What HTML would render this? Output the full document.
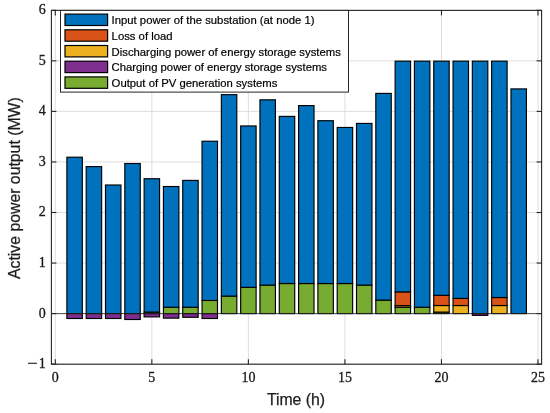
<!DOCTYPE html>
<html><head><meta charset="utf-8"><title>Active power output</title>
<style>
html,body{margin:0;padding:0;background:#fff;}
svg{display:block;}
.tick text{font-family:"Liberation Serif",serif;font-size:14px;fill:#1a1a1a;stroke:#1a1a1a;stroke-width:0.3px;}
.leg text{font-family:"Liberation Sans",sans-serif;font-size:11.3px;fill:#000;stroke:#000;stroke-width:0.2px;}
.ax{font-family:"Liberation Sans",sans-serif;font-size:15.8px;fill:#1c1c1c;stroke:#1c1c1c;stroke-width:0.25px;}
</style></head><body>
<svg width="550" height="413" viewBox="0 0 550 413">
<rect width="550" height="413" fill="#fff"/>
<g stroke="#dadada" stroke-width="0.9" fill="none">
<line x1="55.30" x2="55.30" y1="10.4" y2="364.2"/>
<line x1="151.84" x2="151.84" y1="10.4" y2="364.2"/>
<line x1="248.38" x2="248.38" y1="10.4" y2="364.2"/>
<line x1="344.92" x2="344.92" y1="10.4" y2="364.2"/>
<line x1="441.46" x2="441.46" y1="10.4" y2="364.2"/>
<line x1="538.00" x2="538.00" y1="10.4" y2="364.2"/>
<line x1="51.4" x2="541.6" y1="364.15" y2="364.15"/>
<line x1="51.4" x2="541.6" y1="313.60" y2="313.60"/>
<line x1="51.4" x2="541.6" y1="263.05" y2="263.05"/>
<line x1="51.4" x2="541.6" y1="212.50" y2="212.50"/>
<line x1="51.4" x2="541.6" y1="161.95" y2="161.95"/>
<line x1="51.4" x2="541.6" y1="111.40" y2="111.40"/>
<line x1="51.4" x2="541.6" y1="60.85" y2="60.85"/>
<line x1="51.4" x2="541.6" y1="10.30" y2="10.30"/>
</g>
<g stroke="#000" stroke-width="1.15">
<rect x="66.88" y="157.20" width="15.45" height="156.40" fill="#0072BD"/>
<rect x="66.88" y="313.60" width="15.45" height="4.90" fill="#7E2F8E"/>
<rect x="86.19" y="166.60" width="15.45" height="147.00" fill="#0072BD"/>
<rect x="86.19" y="313.60" width="15.45" height="4.90" fill="#7E2F8E"/>
<rect x="105.50" y="185.00" width="15.45" height="128.60" fill="#0072BD"/>
<rect x="105.50" y="313.60" width="15.45" height="4.90" fill="#7E2F8E"/>
<rect x="124.81" y="163.52" width="15.45" height="150.08" fill="#0072BD"/>
<rect x="124.81" y="313.60" width="15.45" height="5.91" fill="#7E2F8E"/>
<rect x="144.12" y="312.08" width="15.45" height="1.52" fill="#77AC30"/>
<rect x="144.12" y="178.73" width="15.45" height="133.35" fill="#0072BD"/>
<rect x="144.12" y="313.60" width="15.45" height="3.29" fill="#7E2F8E"/>
<rect x="163.42" y="307.28" width="15.45" height="6.32" fill="#77AC30"/>
<rect x="163.42" y="186.52" width="15.45" height="120.76" fill="#0072BD"/>
<rect x="163.42" y="313.60" width="15.45" height="4.55" fill="#7E2F8E"/>
<rect x="182.73" y="307.28" width="15.45" height="6.32" fill="#77AC30"/>
<rect x="182.73" y="180.40" width="15.45" height="126.88" fill="#0072BD"/>
<rect x="182.73" y="313.60" width="15.45" height="3.69" fill="#7E2F8E"/>
<rect x="202.04" y="300.46" width="15.45" height="13.14" fill="#77AC30"/>
<rect x="202.04" y="141.22" width="15.45" height="159.23" fill="#0072BD"/>
<rect x="202.04" y="313.60" width="15.45" height="4.90" fill="#7E2F8E"/>
<rect x="221.35" y="296.06" width="15.45" height="17.54" fill="#77AC30"/>
<rect x="221.35" y="94.67" width="15.45" height="201.39" fill="#0072BD"/>
<rect x="240.66" y="287.31" width="15.45" height="26.29" fill="#77AC30"/>
<rect x="240.66" y="125.96" width="15.45" height="161.36" fill="#0072BD"/>
<rect x="259.96" y="285.09" width="15.45" height="28.51" fill="#77AC30"/>
<rect x="259.96" y="99.82" width="15.45" height="185.27" fill="#0072BD"/>
<rect x="279.27" y="283.52" width="15.45" height="30.08" fill="#77AC30"/>
<rect x="279.27" y="116.40" width="15.45" height="167.12" fill="#0072BD"/>
<rect x="298.58" y="283.52" width="15.45" height="30.08" fill="#77AC30"/>
<rect x="298.58" y="105.59" width="15.45" height="177.94" fill="#0072BD"/>
<rect x="317.89" y="283.52" width="15.45" height="30.08" fill="#77AC30"/>
<rect x="317.89" y="120.70" width="15.45" height="162.82" fill="#0072BD"/>
<rect x="337.20" y="283.52" width="15.45" height="30.08" fill="#77AC30"/>
<rect x="337.20" y="127.47" width="15.45" height="156.05" fill="#0072BD"/>
<rect x="356.50" y="285.09" width="15.45" height="28.51" fill="#77AC30"/>
<rect x="356.50" y="123.43" width="15.45" height="161.66" fill="#0072BD"/>
<rect x="375.81" y="300.10" width="15.45" height="13.50" fill="#77AC30"/>
<rect x="375.81" y="93.40" width="15.45" height="206.70" fill="#0072BD"/>
<rect x="395.12" y="307.28" width="15.45" height="6.32" fill="#77AC30"/>
<rect x="395.12" y="305.61" width="15.45" height="1.67" fill="#EDB120"/>
<rect x="395.12" y="291.86" width="15.45" height="13.75" fill="#D95319"/>
<rect x="395.12" y="61.15" width="15.45" height="230.71" fill="#0072BD"/>
<rect x="414.43" y="307.28" width="15.45" height="6.32" fill="#77AC30"/>
<rect x="414.43" y="61.15" width="15.45" height="246.13" fill="#0072BD"/>
<rect x="433.74" y="312.08" width="15.45" height="1.52" fill="#77AC30"/>
<rect x="433.74" y="305.51" width="15.45" height="6.57" fill="#EDB120"/>
<rect x="433.74" y="295.30" width="15.45" height="10.21" fill="#D95319"/>
<rect x="433.74" y="61.15" width="15.45" height="234.15" fill="#0072BD"/>
<rect x="453.04" y="305.51" width="15.45" height="8.09" fill="#EDB120"/>
<rect x="453.04" y="298.44" width="15.45" height="7.08" fill="#D95319"/>
<rect x="453.04" y="61.15" width="15.45" height="237.28" fill="#0072BD"/>
<rect x="472.35" y="61.15" width="15.45" height="252.45" fill="#0072BD"/>
<rect x="472.35" y="313.60" width="15.45" height="1.77" fill="#7E2F8E"/>
<rect x="491.66" y="305.51" width="15.45" height="8.09" fill="#EDB120"/>
<rect x="491.66" y="297.53" width="15.45" height="7.99" fill="#D95319"/>
<rect x="491.66" y="61.15" width="15.45" height="236.37" fill="#0072BD"/>
<rect x="510.97" y="88.91" width="15.45" height="224.69" fill="#0072BD"/>
</g>
<line x1="51.4" x2="541.6" y1="313.6" y2="313.6" stroke="#262626" stroke-width="0.8"/>
<g stroke="#262626" stroke-width="1.1" fill="none">
<line x1="55.30" x2="55.30" y1="364.2" y2="359.2"/>
<line x1="55.30" x2="55.30" y1="10.4" y2="15.4"/>
<line x1="151.84" x2="151.84" y1="364.2" y2="359.2"/>
<line x1="151.84" x2="151.84" y1="10.4" y2="15.4"/>
<line x1="248.38" x2="248.38" y1="364.2" y2="359.2"/>
<line x1="248.38" x2="248.38" y1="10.4" y2="15.4"/>
<line x1="344.92" x2="344.92" y1="364.2" y2="359.2"/>
<line x1="344.92" x2="344.92" y1="10.4" y2="15.4"/>
<line x1="441.46" x2="441.46" y1="364.2" y2="359.2"/>
<line x1="441.46" x2="441.46" y1="10.4" y2="15.4"/>
<line x1="538.00" x2="538.00" y1="364.2" y2="359.2"/>
<line x1="538.00" x2="538.00" y1="10.4" y2="15.4"/>
<line x1="51.4" x2="56.4" y1="364.15" y2="364.15"/>
<line x1="541.6" x2="536.6" y1="364.15" y2="364.15"/>
<line x1="51.4" x2="56.4" y1="313.60" y2="313.60"/>
<line x1="541.6" x2="536.6" y1="313.60" y2="313.60"/>
<line x1="51.4" x2="56.4" y1="263.05" y2="263.05"/>
<line x1="541.6" x2="536.6" y1="263.05" y2="263.05"/>
<line x1="51.4" x2="56.4" y1="212.50" y2="212.50"/>
<line x1="541.6" x2="536.6" y1="212.50" y2="212.50"/>
<line x1="51.4" x2="56.4" y1="161.95" y2="161.95"/>
<line x1="541.6" x2="536.6" y1="161.95" y2="161.95"/>
<line x1="51.4" x2="56.4" y1="111.40" y2="111.40"/>
<line x1="541.6" x2="536.6" y1="111.40" y2="111.40"/>
<line x1="51.4" x2="56.4" y1="60.85" y2="60.85"/>
<line x1="541.6" x2="536.6" y1="60.85" y2="60.85"/>
<line x1="51.4" x2="56.4" y1="10.30" y2="10.30"/>
<line x1="541.6" x2="536.6" y1="10.30" y2="10.30"/>
</g>
<rect x="51.4" y="10.4" width="490.20000000000005" height="353.8" fill="none" stroke="#262626" stroke-width="1.1"/>
<g class="tick">
<text x="55.30" y="381.9" text-anchor="middle">0</text>
<text x="151.84" y="381.9" text-anchor="middle">5</text>
<text x="248.38" y="381.9" text-anchor="middle">10</text>
<text x="344.92" y="381.9" text-anchor="middle">15</text>
<text x="441.46" y="381.9" text-anchor="middle">20</text>
<text x="538.00" y="381.9" text-anchor="middle">25</text>
<text x="45.8" y="368.05" text-anchor="end">1</text>
<text transform="translate(27.6,367.95) scale(1.3,1)">−</text>
<text x="45.8" y="317.50" text-anchor="end">0</text>
<text x="45.8" y="266.95" text-anchor="end">1</text>
<text x="45.8" y="216.40" text-anchor="end">2</text>
<text x="45.8" y="165.85" text-anchor="end">3</text>
<text x="45.8" y="115.30" text-anchor="end">4</text>
<text x="45.8" y="64.75" text-anchor="end">5</text>
<text x="45.8" y="14.20" text-anchor="end">6</text>
</g>
<g class="leg">
<rect x="60.5" y="10.4" width="288" height="81.7" fill="#fff" stroke="#262626" stroke-width="1"/>
<rect x="65" y="14.10" width="42.6" height="11.4" fill="#0072BD" stroke="#000" stroke-width="1.2"/>
<text x="111.6" y="24.30">Input power of the substation (at node 1)</text>
<rect x="65" y="29.80" width="42.6" height="11.4" fill="#D95319" stroke="#000" stroke-width="1.2"/>
<text x="111.6" y="40.00">Loss of load</text>
<rect x="65" y="45.50" width="42.6" height="11.4" fill="#EDB120" stroke="#000" stroke-width="1.2"/>
<text x="111.6" y="55.70">Discharging power of energy storage systems</text>
<rect x="65" y="61.20" width="42.6" height="11.4" fill="#7E2F8E" stroke="#000" stroke-width="1.2"/>
<text x="111.6" y="71.40">Charging power of energy storage systems</text>
<rect x="65" y="76.90" width="42.6" height="11.4" fill="#77AC30" stroke="#000" stroke-width="1.2"/>
<text x="111.6" y="87.10">Output of PV generation systems</text>
</g>
<text class="ax" x="296" y="405.4" text-anchor="middle">Time (h)</text>
<text class="ax" transform="translate(19.5,188.1) rotate(-90)" text-anchor="middle">Active power output (MW)</text>
</svg>
</body></html>
